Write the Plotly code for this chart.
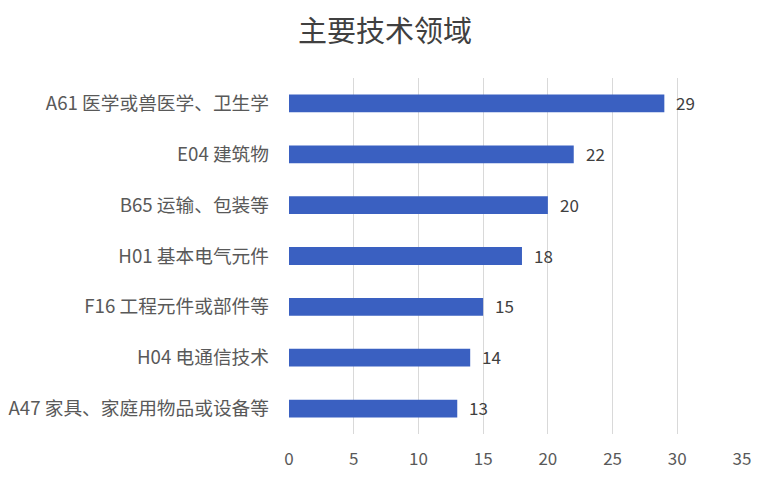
import plotly.graph_objects as go

categories = ["A61 医学或兽医学、卫生学", "E04 建筑物", "B65 运输、包装等", "H01 基本电气元件",
              "F16 工程元件或部件等", "H04 电通信技术", "A47 家具、家庭用物品或设备等"]
values = [29, 22, 20, 18, 15, 14, 13]
tick_vals = [0, 5, 10, 15, 20, 25, 30, 35]

FONT = "Noto Sans CJK SC"
fig = go.Figure()
fig.add_trace(go.Bar(
    x=values, y=categories, orientation="h",
    marker=dict(color="#3A60C1", line=dict(width=0)),
))
for c, v in zip(categories, values):
    fig.add_annotation(x=v, y=c, text=str(v), showarrow=False, xanchor="left",
                       xshift=10, yshift=1, font=dict(family=FONT, size=17, color="#404040"))

fig.update_layout(
    width=770, height=479,
    margin=dict(l=289, r=28, t=78, b=45),
    paper_bgcolor="white", plot_bgcolor="white",
    bargap=0.65,
    showlegend=False,
    title=dict(text="主要技术领域", x=0.5, xanchor="center", y=1 - 32/479, yanchor="middle",
               font=dict(family=FONT, size=29, color="#404040")),
    font=dict(family=FONT, size=17, color="#595959"),
)
fig.update_xaxes(range=[0, 35], tickvals=tick_vals, showgrid=True, gridcolor="#D9D9D9",
                 gridwidth=1, zeroline=False, showline=False, ticks="", automargin=False,
                 ticklabelstandoff=13, tickfont=dict(family=FONT, size=17, color="#595959"),
                 fixedrange=True)
fig.update_yaxes(autorange="reversed", showgrid=False, showline=False, ticks="", automargin=False,
                 ticklabelstandoff=19, tickfont=dict(family=FONT, size=18.7, color="#595959"))

fig.write_html("out.html")
